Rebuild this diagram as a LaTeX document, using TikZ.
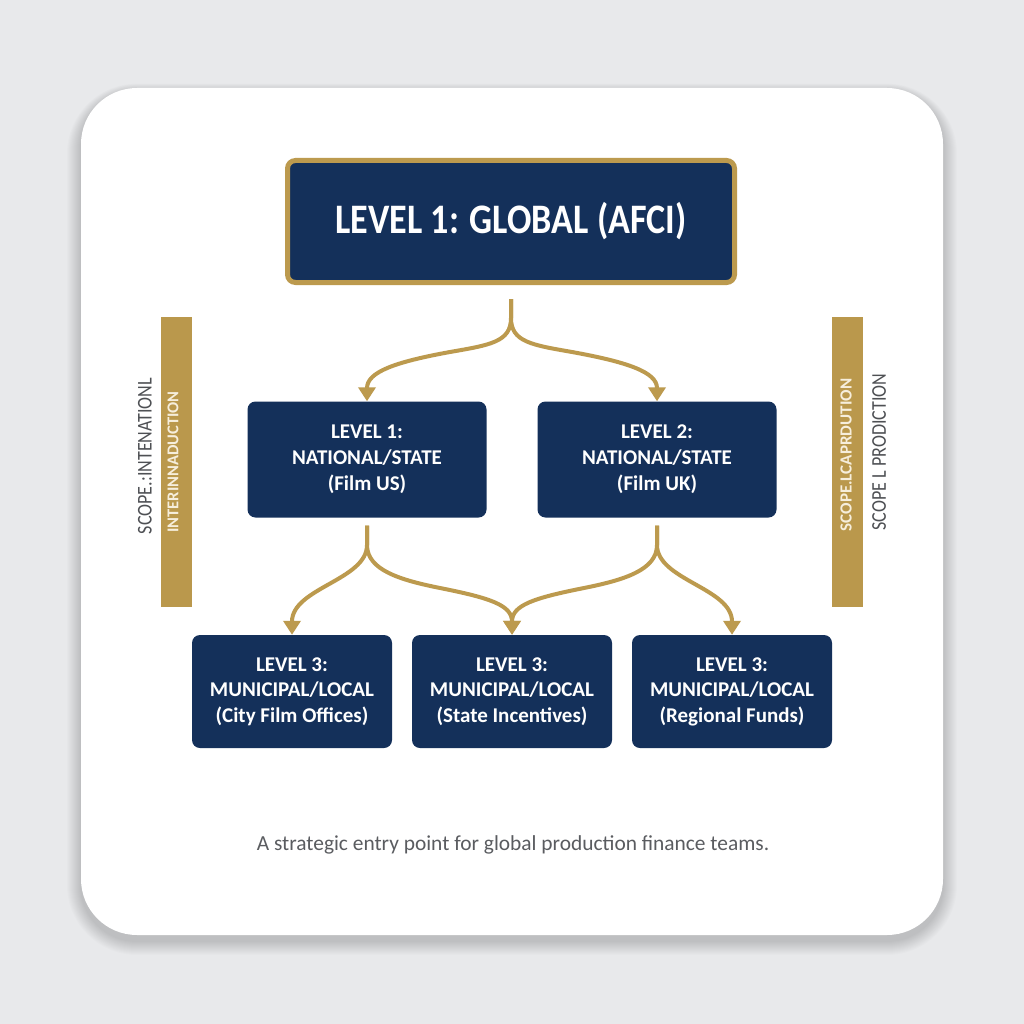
\documentclass[tikz,border=0pt]{standalone}
\usepackage{fontspec}
\setmainfont{Carlito}
\newfontfamily\condfont[FakeStretch=0.86]{Carlito}
\usetikzlibrary{arrows.meta}
\definecolor{navy}{HTML}{14305A}
\definecolor{gold}{HTML}{BC9A4E}
\definecolor{bargold}{HTML}{BA984C}
\definecolor{bg}{HTML}{E8E9EB}
\definecolor{capgray}{HTML}{5A5C60}
\definecolor{sidegray}{HTML}{4E5054}
\definecolor{cream}{HTML}{F6EEDC}
\begin{document}
\begin{tikzpicture}[x=1pt,y=-1pt,
  topbox/.style={fill=navy, draw=gold, line width=5pt, rounded corners=8pt,
    minimum width=447pt, minimum height=122pt, text=white, inner sep=0pt,
    font=\condfont\bfseries\fontsize{42}{46}\selectfont},
  midbox/.style={fill=navy, rounded corners=8pt, minimum width=239pt, minimum height=116pt,
    text=white, align=center, inner sep=0pt, font=\bfseries\fontsize{21}{26}\selectfont},
  lowbox/.style={fill=navy, rounded corners=8pt, minimum width=200pt, minimum height=113pt,
    text=white, align=center, inner sep=0pt, font=\bfseries\fontsize{21}{25.5}\selectfont},
  bar/.style={fill=bargold, minimum width=31pt, minimum height=290pt, inner sep=0pt},
  bartext/.style={rotate=90, text=cream, inner sep=0pt},
  sidetext/.style={rotate=90, text=sidegray, inner sep=0pt, font=\condfont\fontsize{21}{21}\selectfont},
  conn/.style={draw=gold, line width=4pt, -{Triangle[width=17pt,length=14pt]}},
]
\fill[bg] (0,0) rectangle (1024,1024);
\useasboundingbox (0,0) rectangle (1024,1024);
% soft card shadow
\foreach \i in {1,...,14}{
  \fill[black, opacity=0.012, rounded corners={56pt+\i pt}]
    ({81-\i},{92-0.6*\i}) rectangle ({943+\i},{941+\i});
}
% card
\fill[white, rounded corners=56pt] (81,88) rectangle (943,935);

% nodes
\node[topbox] (top) at (511,221.5) {LEVEL 1: GLOBAL (AFCI)};
\node[midbox] (l2a) at (367,459.5) {LEVEL 1:\\NATIONAL/STATE\\(Film US)};
\node[midbox] (l2b) at (657,459.5) {LEVEL 2:\\NATIONAL/STATE\\(Film UK)};
\node[lowbox] (l3a) at (292,691.5) {LEVEL 3:\\MUNICIPAL/LOCAL\\(City Film Offices)};
\node[lowbox] (l3b) at (512,691.5) {LEVEL 3:\\MUNICIPAL/LOCAL\\(State Incentives)};
\node[lowbox] (l3c) at (732,691.5) {LEVEL 3:\\MUNICIPAL/LOCAL\\(Regional Funds)};

% side bars
\node[bar] (barL) at (176.5,462) {};
\node[bartext, font=\bfseries\fontsize{16.5}{16.5}\selectfont] (barLt) at (173,462) {INTERINNADUCTION};
\node[sidetext] (sideL) at (145,456) {SCOPE.:INTENATIONL};
\node[bar] (barR) at (847.5,462) {};
\node[bartext, font=\bfseries\fontsize{17}{17}\selectfont] (barRt) at (846,455) {SCOPE.LCAPRDUTION};
\node[sidetext] (sideR) at (879,452) {SCOPE L PRODICTION};

% caption
\node[text=capgray, font=\fontsize{21.4}{25}\selectfont] (cap) at (513,845)
  {A strategic entry point for global production finance teams.};

% connectors
\coordinate (s0) at ([yshift=-14pt]top.south);
\coordinate (f0) at (511,318);
\draw[conn] (s0) -- (f0) .. controls (511,342) and (490,345) .. (450,352)
  .. controls (395,362) and (367,372) .. (l2a.north);
\draw[conn] (s0) -- (f0) .. controls (511,342) and (532,345) .. (572,352)
  .. controls (627,362) and (657,372) .. (l2b.north);

\coordinate (s1) at ([yshift=-8pt]l2a.south);
\coordinate (f1) at (367,545);
\coordinate (s2) at ([yshift=-8pt]l2b.south);
\coordinate (f2) at (657,545);
\draw[conn] (s1) -- (f1) .. controls (367,580) and (292,588) .. (l3a.north);
\draw[conn] (s1) -- (f1) .. controls (367,570) and (400,580) .. (440,588)
  .. controls (490,598) and (512,605) .. (l3b.north);
\draw[conn] (s2) -- (f2) .. controls (657,570) and (624,580) .. (584,588)
  .. controls (534,598) and (512,605) .. (l3b.north);
\draw[conn] (s2) -- (f2) .. controls (657,580) and (732,588) .. (l3c.north);
\end{tikzpicture}
\end{document}
